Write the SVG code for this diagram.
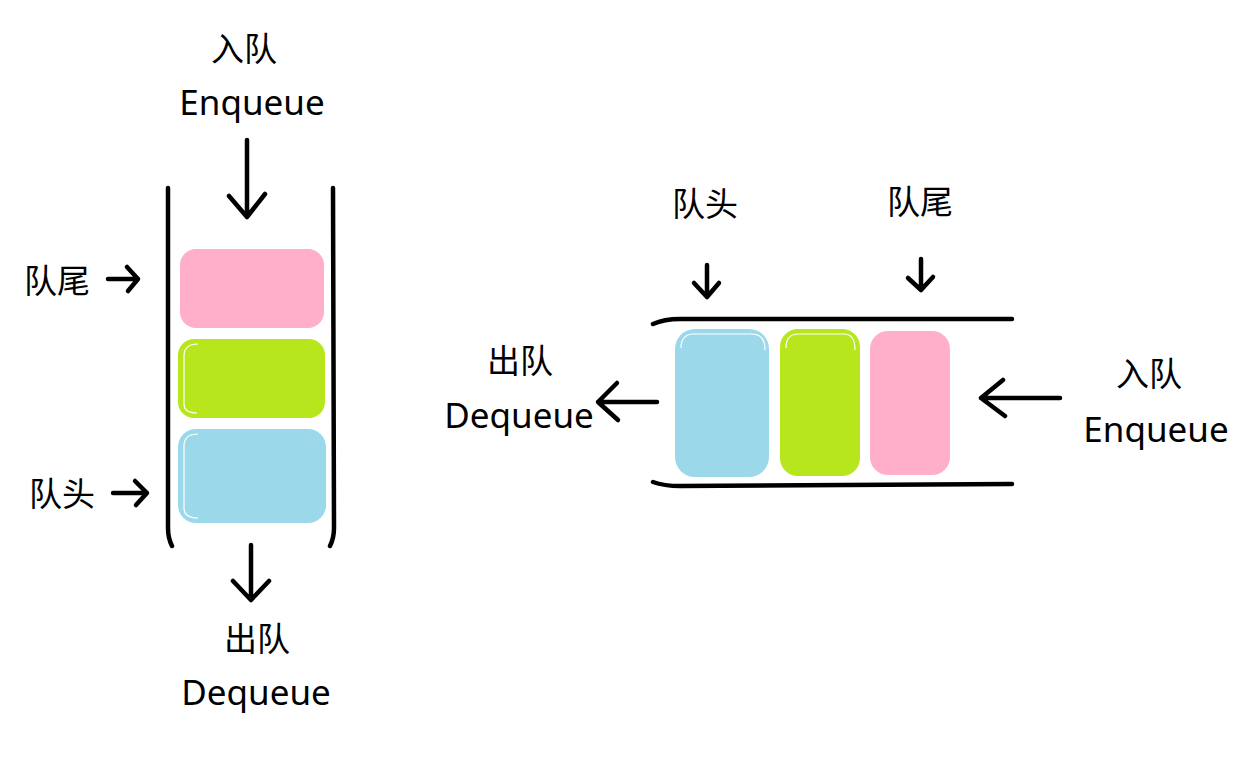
<svg xmlns="http://www.w3.org/2000/svg" width="1254" height="760" viewBox="0 0 1254 760">
<style>
.t{font-family:"Noto Sans","Noto Sans CJK SC",sans-serif;font-size:33px;fill:#000;text-anchor:middle}
.e{font-size:35px}
.ln{fill:none;stroke:#000;stroke-width:4.5;stroke-linecap:round;stroke-linejoin:round}
.hl{fill:none;stroke:#fff;stroke-width:1.2}
.pink{fill:#FFAFCA}.green{fill:#B7E61D}.blue{fill:#9BD9EA}
</style>
<rect width="1254" height="760" fill="#fff"/>
<g id="vertical-queue">
<path class="ln" d="M168,188 L168,528 Q168,538 172,546"/>
<path class="ln" d="M333,188 L334,528 Q334,538 330,546"/>
<g id="v-pink"><rect class="pink" x="180" y="249" width="144" height="79" rx="16"/></g>
<g id="v-green"><rect class="green" x="178" y="339" width="147" height="79" rx="16"/>
<path class="hl" d="M198,344 Q184,344 184,356 L184,404 Q184,413 197,413"/></g>
<g id="v-blue"><rect class="blue" x="178" y="429" width="148" height="94" rx="18"/>
<path class="hl" d="M198,434 Q184,434 184,446 L184,508 Q184,518 198,518"/></g>
</g>
<g id="horizontal-queue">
<path class="ln" d="M653,324 Q664,319 680,319 L1012,319"/>
<path class="ln" d="M653,482 Q664,486 680,486 L1012,484"/>
<g id="h-blue"><rect class="blue" x="675" y="329" width="94" height="148" rx="20"/>
<path class="hl" d="M681,348 Q681,334 694,334 L752,334 Q765,334 765,350"/></g>
<g id="h-green"><rect class="green" x="780" y="329" width="80" height="147" rx="18"/>
<path class="hl" d="M786,348 Q786,334 798,334 L844,334 Q855,334 855,350"/></g>
<g id="h-pink"><rect class="pink" x="870" y="331" width="80" height="144" rx="18"/></g>
</g>
<g id="connectors">
<path class="ln" d="M247,140 L247,217 M229,196 L247,217 L265,194"/>
<path class="ln" d="M251,545 L251,600 M233,581 L251,600 L269,581"/>
<path class="ln" d="M108,279 L138,279 M127,267 L138,279 L128,291"/>
<path class="ln" d="M113,493 L147,493 M135,481 L147,493 L136,505"/>
<path class="ln" d="M707,265 L707,297 M694,283 L707,297 L719,283"/>
<path class="ln" d="M921,259 L921,290 M908,278 L921,290 L933,277"/>
<path class="ln" d="M1060,398 L981,398 M1003,380 L981,398 L1005,416"/>
<path class="ln" d="M657,402 L598,402 M617,383 L598,402 L618,420"/>
</g>
<g id="labels">
<text class="t" x="244" y="61">入队</text>
<text class="t e" x="252" y="115">Enqueue</text>
<text class="t" x="257" y="651">出队</text>
<text class="t e" x="256" y="705">Dequeue</text>
<text class="t" x="57" y="293">队尾</text>
<text class="t" x="62" y="506">队头</text>
<text class="t" x="705" y="216">队头</text>
<text class="t" x="920" y="214">队尾</text>
<text class="t" x="520" y="373">出队</text>
<text class="t e" x="519" y="428">Dequeue</text>
<text class="t" x="1149" y="386">入队</text>
<text class="t e" x="1156" y="442">Enqueue</text>
</g>
</svg>
